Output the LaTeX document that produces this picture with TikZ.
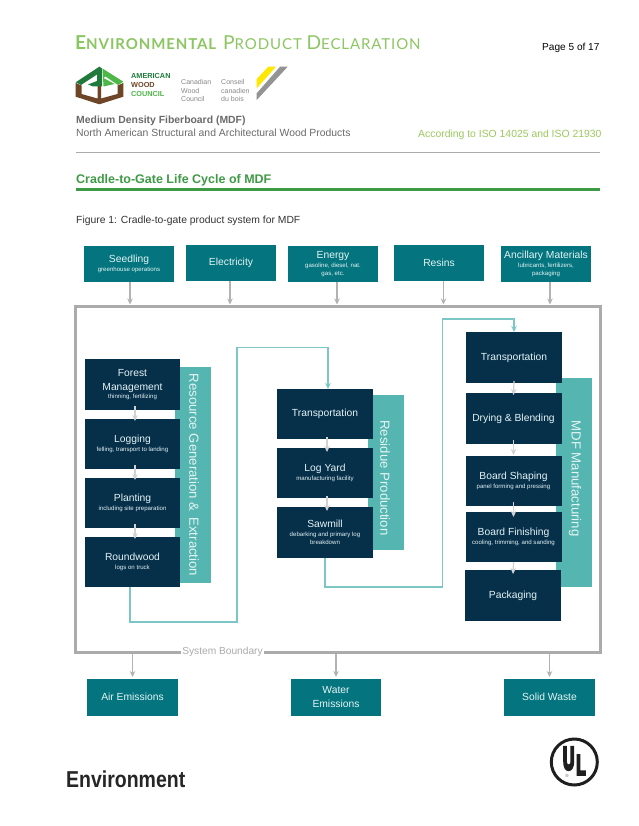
\documentclass[tikz,border=0pt]{standalone}
\usepackage{fontspec}
\usepackage{graphicx}
\setmainfont{Liberation Sans}
\newfontfamily\latof{Lato}
\usetikzlibrary{arrows.meta}
\definecolor{tealbox}{HTML}{04757F}
\definecolor{navybox}{HTML}{062F4A}
\definecolor{bandc}{HTML}{55B5B0}
\definecolor{linkc}{HTML}{7CC6C6}
\definecolor{boundc}{HTML}{ABABAB}
\definecolor{arrc}{HTML}{B2B2B2}
\definecolor{innerc}{HTML}{D2D2D2}
\definecolor{boxtext}{HTML}{E4F4F4}
\definecolor{titleg}{HTML}{8CC663}
\definecolor{isog}{HTML}{9CC95E}
\definecolor{headg}{HTML}{3F9A45}
\definecolor{greytx}{HTML}{6A6A6A}
\definecolor{awcdark}{HTML}{1F7A3C}
\definecolor{awclight}{HTML}{4DB748}
\definecolor{awcbrown}{HTML}{6E4526}
\newcommand{\mf}{\fontsize{10.3}{14}\selectfont}
\newcommand{\sbf}{\fontsize{6.1}{8}\selectfont}
\newcommand{\pbox}[7]{\node[#6,minimum width={(#4-#2)*1pt},minimum height={(#5-#3)*1pt}] (#1) at ({(#2+#4)/2},{(#3+#5)/2}) {#7};}
\tikzset{
  txt/.style={inner sep=0,anchor=base west,text=black},
  tealn/.style={fill=tealbox,text=boxtext,inner sep=0,outer sep=0,align=center,font=\mf},
  navyn/.style={fill=navybox,text=boxtext,inner sep=0,outer sep=0,align=center,font=\mf},
  bandn/.style={fill=bandc,inner sep=0,outer sep=0},
  bandl/.style={rotate=-90,text=boxtext,inner sep=0,font=\fontsize{13.2}{15}\selectfont},
  ext/.style={draw=arrc,line width=1.2pt,-{Stealth[length=6pt,width=5.5pt]}},
  inner/.style={draw=innerc,line width=1.2pt,-{Stealth[length=6pt,width=5.5pt]}},
  link/.style={draw=linkc,line width=1.1pt},
  linka/.style={link,-{Stealth[length=6pt,width=5.5pt]}},
  logot/.style={inner sep=0,anchor=base west,font=\bfseries\fontsize{7.3}{8}\selectfont},
  logos/.style={inner sep=0,anchor=base west,text=greytx!80,font=\fontsize{7}{8}\selectfont},
}
\begin{document}
\begin{tikzpicture}[x=1pt,y=-1pt]
\useasboundingbox (0,0) rectangle (638,826);
\fill[white] (0,0) rectangle (638,826);
% header
\node[txt,text=titleg] (title) at (75,50) {\latof\addfontfeature{LetterSpace=6}\fontsize{19.2}{20}\selectfont\textbf{E\fontsize{15}{20}\selectfont NVIRONMENTAL} \fontsize{19.2}{20}\selectfont P\fontsize{15}{20}\selectfont RODUCT \fontsize{19.2}{20}\selectfont D\fontsize{15}{20}\selectfont ECLARATION};
\node[txt,font=\fontsize{10.1}{11}\selectfont] (page) at (542,51) {Page 5 of 17};
% logo
\fill[awcbrown] (75.7,83) -- (81.5,85.5) -- (81.5,94) -- (97.5,98.5) -- (97.5,86) -- (101,86) -- (101,98.5) -- (117.5,94) -- (117.5,85.5) -- (123.3,83) -- (123.3,96.7) -- (99.3,104.3) -- (75.7,96.7) -- cycle;
\fill[awcdark] (99.3,66.7) -- (75.7,82.3) -- (81,85) -- (97,74.5) -- (97,81) -- (88,84.5) -- (93,86.5) -- (102,86.5) -- (102,68.5) -- cycle;
\fill[awclight] (102.5,68.5) -- (123.3,81.7) -- (118,85) -- (105.5,76.5) -- (103.5,78) -- (114.5,84) -- (103.5,86.5) -- cycle;
\node[logot,text=awcdark] (lg1) at (131,78.3) {AMERICAN};
\node[logot,text=awcbrown] (lg2) at (131,87.7) {WOOD};
\node[logot,text=awclight] (lg3) at (131,96.7) {COUNCIL};
\node[logos] (lc1) at (181,85) {Canadian};
\node[logos] (lc2) at (181,93.3) {Wood};
\node[logos] (lc3) at (181,101.7) {Council};
\node[logos] (lf1) at (221,85) {Conseil};
\node[logos] (lf2) at (221,93.3) {canadien};
\node[logos] (lf3) at (221,101.7) {du bois};
\fill[yellow!90!orange] (268.3,66.7) -- (276,66.7) -- (256.7,88.3) -- (256.7,79) -- cycle;
\fill[gray!85] (280,66.7) -- (287.7,66.7) -- (256.7,100) -- (256.7,93.3) -- cycle;
\node[txt,text=greytx,font=\bfseries\fontsize{10.4}{11}\selectfont] (sub1) at (76,124) {Medium Density Fiberboard (MDF)};
\node[txt,text=greytx,font=\fontsize{10.4}{11}\selectfont] (sub2) at (76,137) {North American Structural and Architectural Wood Products};
\node[txt,text=isog,font=\fontsize{10.4}{11}\selectfont] (iso) at (418,138) {According to ISO 14025 and ISO 21930};
\draw[boundc,line width=1pt] (76,153) -- (600,153);
\node[txt,text=headg,font=\bfseries\fontsize{12.5}{14}\selectfont] (head) at (76,184) {Cradle-to-Gate Life Cycle of MDF};
\draw[headg,line width=3pt] (76,190) -- (600,190);
\node[txt,text=black!80,font=\fontsize{10.35}{11}\selectfont] (fig) at (76,223) {Figure 1: Cradle-to-gate product system for MDF};
% boundary
\node[draw=boundc,line width=3pt,inner sep=0,minimum width=525pt,minimum height=346pt] (boundary) at (337.5,479) {};
% input boxes
\pbox{seed}{84}{246}{174}{282}{tealn}{Seedling\\[-5pt]\sbf greenhouse operations}
\pbox{elec}{186}{245}{276}{281}{tealn}{Electricity}
\pbox{ener}{288}{246}{378}{282}{tealn}{Energy\\[-5.5pt]\sbf gasoline, diesel, nat.\\[-6pt]\sbf gas, etc.}
\pbox{resi}{394}{245}{484}{281}{tealn}{Resins}
\pbox{anci}{501}{246}{591}{282}{tealn}{Ancillary Materials\\[-5.5pt]\sbf lubricants, fertilizers,\\[-6pt]\sbf packaging}
% bands
\pbox{band1}{175}{367}{211}{583}{bandn}{}
\pbox{band2}{368}{395}{404}{550}{bandn}{}
\pbox{band3}{556}{378}{592}{587}{bandn}{}
\node[bandl] (band1t) at (194,475) {Resource Generation \&\, Extraction};
\node[bandl] (band2t) at (385,478) {Residue Production};
\node[bandl] (band3t) at (575,478.5) {MDF Manufacturing};
% left column
\pbox{forest}{84.7}{359}{180.3}{410}{navyn}{Forest\\[0pt]Management\\[-5.5pt]\sbf thinning, fertilizing}
\pbox{logg}{84.7}{419}{180.3}{469}{navyn}{Logging\\[-5.5pt]\sbf felling, transport to landing}
\pbox{plant}{84.7}{478}{180.3}{528}{navyn}{Planting\\[-5.5pt]\sbf including site preparation}
\pbox{round}{84.7}{537}{180.3}{587}{navyn}{Roundwood\\[-5.5pt]\sbf logs on truck}
% middle column
\pbox{trans}{277}{389}{373}{439}{navyn}{Transportation}
\pbox{yard}{277}{448}{373}{498}{navyn}{Log Yard\\[-5.5pt]\sbf manufacturing facility}
\pbox{saw}{277}{507}{373}{557.5}{navyn}{Sawmill\\[-5.5pt]\sbf debarking and primary log\\[-6pt]\sbf breakdown}
% right column
\pbox{transb}{466}{332}{562}{383}{navyn}{Transportation}
\pbox{dry}{465.5}{393}{561.5}{444}{navyn}{Drying \& Blending}
\pbox{shape}{465.5}{456}{561.5}{506}{navyn}{Board Shaping\\[-5.5pt]\sbf panel forming and pressing}
\pbox{finish}{465.5}{512}{561.5}{562}{navyn}{Board Finishing\\[-5.5pt]\sbf cooling, trimming, and sanding}
\pbox{pack}{465}{570}{561}{621}{navyn}{Packaging}
% outputs
\pbox{air}{87.3}{679}{177.7}{715.5}{tealn}{Air Emissions}
\pbox{water}{291}{679}{381}{715.5}{tealn}{Water\\[0pt]Emissions}
\pbox{solid}{504.3}{679}{594.7}{715.5}{tealn}{Solid Waste}
% boundary label
\node[fill=white,inner xsep=1pt,inner ysep=1pt,text=boundc,font=\fontsize{10.2}{11}\selectfont] (blabel) at (222.5,652) {System Boundary};
% input arrows
\draw[ext] ([xshift=1pt]seed.south) -- ([xshift=1pt]seed.south |- boundary.north);
\draw[ext] ([xshift=-1pt]elec.south) -- ([xshift=-1pt]elec.south |- boundary.north);
\draw[ext] ([xshift=4pt]ener.south) -- ([xshift=4pt]ener.south |- boundary.north);
\draw[ext] ([xshift=4.5pt]resi.south) -- ([xshift=4.5pt]resi.south |- boundary.north);
\draw[ext] ([xshift=4pt]anci.south) -- ([xshift=4pt]anci.south |- boundary.north);
% output arrows
\draw[ext] (air.north |- boundary.south) -- ([yshift=2pt]air.north);
\draw[ext] (water.north |- boundary.south) -- ([yshift=2pt]water.north);
\draw[ext] (solid.north |- boundary.south) -- ([yshift=2pt]solid.north);
% inner arrows
\draw[inner] ([xshift=2.5pt,yshift=4pt]forest.south) -- ([xshift=2.5pt,yshift=-2pt]logg.north);
\draw[inner] ([xshift=2.5pt,yshift=4pt]logg.south) -- ([xshift=2.5pt,yshift=-2pt]plant.north);
\draw[inner] ([xshift=2.5pt,yshift=4pt]plant.south) -- ([xshift=2.5pt,yshift=-2pt]round.north);
\draw[inner] ([xshift=2pt,yshift=2pt]trans.south) -- ([xshift=2pt,yshift=-4pt]yard.north);
\draw[inner] ([xshift=2pt,yshift=2pt]yard.south) -- ([xshift=2pt,yshift=-4pt]saw.north);
\draw[inner] ([yshift=2pt]transb.south) -- ([yshift=-2pt]dry.north);
\draw[inner] ([yshift=4pt]dry.south) -- ([yshift=1pt]shape.north);
\draw[inner] ([yshift=4pt]shape.south) -- ([yshift=-5pt]finish.north);
\draw[inner] ([yshift=0pt]finish.south) -- ([yshift=-4pt]pack.north);
% links
\coordinate (l1a) at (237,622);
\coordinate (l1b) at (237,347.5);
\coordinate (l2a) at (442.3,587);
\coordinate (l2b) at (442.3,319);
\draw[linka] ([xshift=-2.5pt]round.south) |- (l1a) -- (l1b) -| ([xshift=3pt]trans.north);
\draw[linka] (saw.south) |- (l2a) -- (l2b) -| (transb.north);
% footer
\node[txt,text=black!85,font=\bfseries\fontsize{23}{24}\selectfont] (env) at (66,787.5) {\scalebox{0.847}[1]{Environment}};
\node[draw=black!88,line width=3pt,circle,minimum size=46pt,inner sep=0] (ul) at (574.3,762) {};
\node[inner sep=0,text=black!88,font=\bfseries\fontsize{32}{32}\selectfont] (ulu) at (568.7,758.5) {\scalebox{0.5}[1]{\addfontfeature{FakeBold=9}U}};
\node[inner sep=0,text=black!88,font=\bfseries\fontsize{28}{28}\selectfont] (ull) at (581,765) {\scalebox{0.55}[1]{\addfontfeature{FakeBold=9}L}};
\node[inner sep=0,text=black!60,font=\fontsize{4.5}{5}\selectfont] (ulr) at (567,775.5) {®};
\end{tikzpicture}
\end{document}
